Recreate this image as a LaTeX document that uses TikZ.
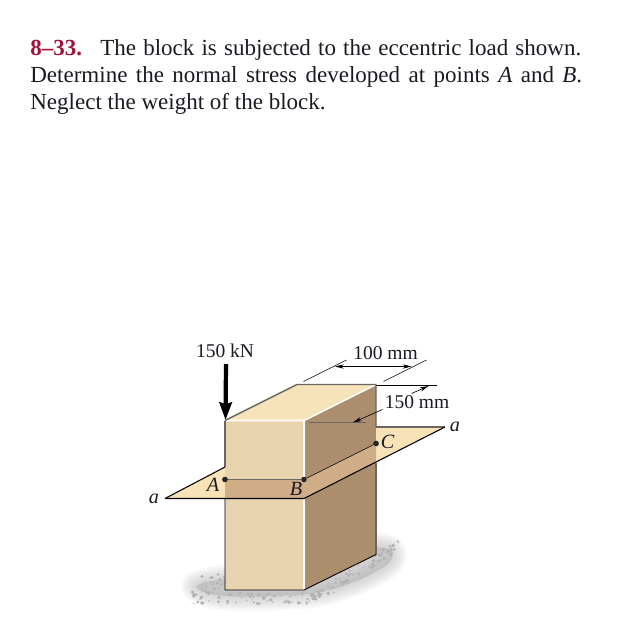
\documentclass[tikz,border=0pt]{standalone}
\usepackage{fontspec}
\setmainfont{Liberation Serif}
\usetikzlibrary{arrows.meta,positioning}
\definecolor{probred}{HTML}{A0123C}
\definecolor{topface}{HTML}{F6E3B9}
\definecolor{frontface}{HTML}{E7D3AD}
\definecolor{sideface}{HTML}{AB8E6D}
\definecolor{planelight}{HTML}{F8E2B8}
\definecolor{planedark}{HTML}{CEAD87}
\definecolor{edgegray}{HTML}{6B6660}
\definecolor{textdark}{HTML}{1A1A22}
\tikzset{
  bodytext/.style={inner sep=0pt,anchor=base west,text=textdark,font=\fontsize{13.1}{15}\selectfont},
  dimtext/.style={inner sep=0pt,text=textdark,font=\fontsize{11.1}{13}\selectfont},
  lettertext/.style={inner sep=0pt,text=textdark,font=\fontsize{11.5}{13}\selectfont\itshape},
  dimline/.style={draw=black,line width=0.35pt},
  dimarrow/.style={dimline,{Stealth[length=5pt,width=2.4pt]}-{Stealth[length=5pt,width=2.4pt]}},
  dotpt/.style={circle,fill=black!85,inner sep=0pt,minimum size=3.1pt},
  grit/.style={fill=black!30}
}
\begin{document}
\begin{tikzpicture}[x=0.02cm,y=0.02cm]
\useasboundingbox (0,0) rectangle (621,-619);
\coordinate (ftl) at (225,-420.5);
\coordinate (ftr) at (304,-420.5);
\coordinate (fbl) at (225,-590);
\coordinate (fbr) at (304,-590);
\coordinate (btl) at (297,-384.5);
\coordinate (btr) at (376,-384.5);
\coordinate (bbr) at (376,-554.5);
\coordinate (pfl) at (165,-498.5);
\coordinate (pfr) at (304,-498.5);
\coordinate (pbr) at (445,-427);
\coordinate (pbm) at (376,-427);
\coordinate (pem) at (376,-462.5);
\coordinate (pel) at (225,-467);
\coordinate (pfm) at (225,-498.5);
\node[bodytext,text=probred,font=\fontsize{13.1}{15}\selectfont\bfseries] (num) at (30,-55) {8–33.};
\node[bodytext] (line1) at (100,-55) {\makebox[9.62cm][s]{The block is subjected to the eccentric load shown.}};
\node[bodytext] (line2) at (30,-82) {\makebox[11.04cm][s]{Determine the normal stress developed at points \textit{A} and \textit{B}.}};
\node[bodytext] (line3) at (30,-109) {Neglect the weight of the block.};
\foreach \w in {30,28,...,2}
  \fill[black!35,draw=black!35,opacity=0.04,line width=\w*0.567pt,line join=round]
    (196,-586) .. controls (215,-575) and (300,-575) .. (330,-570)
    .. controls (350,-550) and (370,-545) .. (385,-548)
    .. controls (394,-550) and (396,-558) .. (385,-566)
    .. controls (360,-582) and (325,-595) .. (290,-595)
    .. controls (250,-598) and (200,-598) .. (196,-586) -- cycle;
\pgfmathsetseed{33}
\foreach \i in {1,...,70}{
  \pgfmathsetmacro{\dx}{192+125*rnd}
  \pgfmathsetmacro{\dy}{-592-12*rnd}
  \pgfmathsetmacro{\dr}{0.6+1.4*rnd}
  \fill[grit] (\dx,\dy) circle (\dr);
}
\foreach \i in {1,...,18}{
  \pgfmathsetmacro{\dx}{198+27*rnd}
  \pgfmathsetmacro{\dy}{-574-18*rnd}
  \pgfmathsetmacro{\dr}{0.6+1.2*rnd}
  \fill[grit] (\dx,\dy) circle (\dr);
}
\foreach \i in {1,...,65}{
  \pgfmathsetmacro{\dt}{rnd}
  \pgfmathsetmacro{\dx}{312+84*\dt+4*rnd}
  \pgfmathsetmacro{\dy}{-592+52*\dt-12*rnd}
  \pgfmathsetmacro{\dr}{0.6+1.4*rnd}
  \fill[grit] (\dx,\dy) circle (\dr);
}
\fill[frontface] (ftl) -- (ftr) -- (fbr) -- (fbl) -- cycle;
\fill[sideface] (ftr) -- (btr) -- (bbr) -- (fbr) -- cycle;
\fill[topface] (ftl) -- (btl) -- (btr) -- (ftr) -- cycle;
\fill[planelight] (pfl) -- (pfm) -- (pel) -- cycle;
\fill[planelight] (pbm) -- (pbr) -- (pem) -- cycle;
\node[dotpt] (A) at (225,-479.5) {};
\node[dotpt] (B) at (304,-479.5) {};
\node[dotpt] (C) at (376,-443.5) {};
\fill[planedark] (A.center) -- (B.center) -- (C.center) -- (pem) -- (pfr) -- (pfm) -- cycle;
\draw[white,line width=0.9pt] (ftl) -- (ftr) -- (btr);
\draw[white,line width=0.9pt] (ftr) -- (B.center);
\draw[white,line width=0.9pt] (pfr) -- (fbr);
\draw[edgegray,line width=0.8pt] (ftl) -- (btl) -- (btr) -- (pbm);
\draw[edgegray,line width=0.8pt] (ftl) -- (pel);
\draw[edgegray,line width=0.8pt] (pem) -- (bbr);
\draw[edgegray,line width=0.8pt] (pbm) -- (pbr);
\draw[black,line width=0.5pt] (pfm) -- (fbl) -- (fbr) -- (bbr);
\draw[black,line width=0.6pt] (pfl) -- (pel);
\draw[black,line width=0.6pt] (pfl) -- (pfr) -- (pbr);
\draw[edgegray,line width=0.9pt] (A) -- (B);
\draw[black,line width=0.35pt] (B) -- (C);
\node[dotpt] at (A.center) {};
\node[dotpt] at (B.center) {};
\node[dotpt] at (C.center) {};
\node[lettertext] (labA) at (213,-484.5) {A};
\node[lettertext] (labB) at (296,-488.5) {B};
\node[lettertext] (labC) at (387.5,-441.5) {C};
\node[lettertext] (labal) at (154,-499) {a};
\node[lettertext] (labar) at (455,-426.5) {a};
\node[dimtext] (load) at (225,-350.5) {150 kN};
\coordinate (loadtop) at (226,-364);
\draw[black,line width=2.4pt,-{Stealth[length=10pt,width=7pt,inset=1pt]}] (loadtop) -- (225.5,-420);
\node[dimtext] (wid) at (385.5,-353.5) {100 mm};
\coordinate (wa1) at (303.5,-381.5);
\coordinate (wa2) at (346.5,-360);
\coordinate (wb1) at (383.5,-381.5);
\coordinate (wb2) at (426.5,-360);
\coordinate (wc1) at (335,-366.5);
\coordinate (wc2) at (411.5,-366.5);
\draw[dimline] (wa1) -- (wa2);
\draw[dimline] (wb1) -- (wb2);
\draw[dimarrow] (wc1) -- (wc2);
\node[dimtext] (dep) at (417,-402.5) {150 mm};
\coordinate (da1) at (376,-385);
\coordinate (da2) at (436.5,-385);
\coordinate (db1) at (309,-422.5);
\coordinate (db2) at (366,-422.5);
\coordinate (dc1) at (353,-422.5);
\coordinate (dc2) at (382.5,-409.5);
\coordinate (dc3) at (411.5,-393.5);
\coordinate (dc4) at (428.5,-386);
\draw[dimline] (da1) -- (da2);
\draw[edgegray,line width=0.9pt] (db1) -- (db2);
\draw[dimline,{Stealth[length=5pt,width=2.4pt]}-] (dc1) -- (dc2);
\draw[dimline,-{Stealth[length=5pt,width=2.4pt]}] (dc3) -- (dc4);
\end{tikzpicture}
\end{document}
